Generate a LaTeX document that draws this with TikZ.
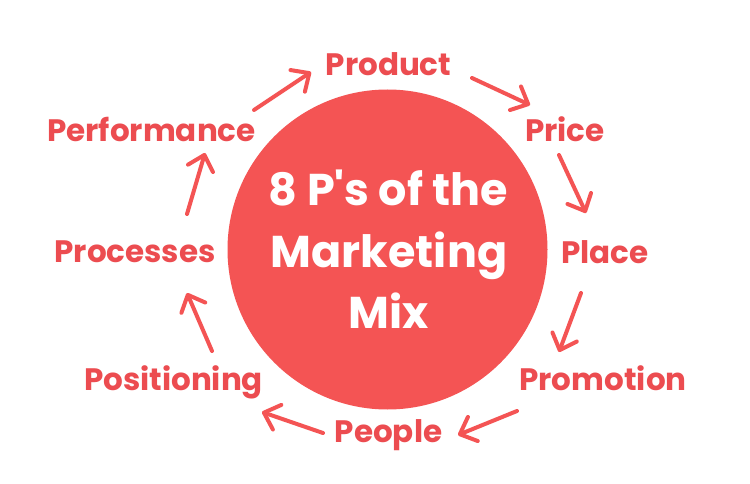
\documentclass[tikz,border=0pt]{standalone}
\usepackage{fontspec}
\setmainfont{Poppins}
\newfontfamily\popplain{Poppins}[Ligatures=TeXOff]
\usetikzlibrary{arrows.meta}
\definecolor{coral}{RGB}{244,84,84}
\definecolor{coraltext}{RGB}{236,76,80}
\begin{document}
\begin{tikzpicture}[x=1pt,y=-1pt,
  lbl/.style={anchor=base,inner sep=0pt,text=coraltext,font=\bfseries\fontsize{31}{31}\selectfont},
  mid/.style={anchor=base,inner sep=0pt,text=white,font=\popplain\bfseries\fontsize{44.5}{44.5}\selectfont},
  flow/.style={draw=coral,line width=4pt,line cap=round,
    -{Straight Barb[length=14pt,width=26pt,round]}}]
\useasboundingbox (0,0) rectangle (750,484);
\fill[white] (0,0) rectangle (750,484);
\node[circle,fill=coral,minimum size=320pt,inner sep=0pt] (hub) at (387.5,249.5) {};
\node[mid] (m1) at (388.5,205) {8 P's of the};
\node[mid] (m2) at (389,267) {Marketing};
\node[mid] (m3) at (388.5,328) {Mix};
\node[lbl] (product) at (388.5,76) {Product};
\node[lbl] (price) at (565,142) {Price};
\node[lbl] (place) at (605,263) {Place};
\node[lbl] (promotion) at (603,390) {Promotion};
\node[lbl] (people) at (388.5,442) {People};
\node[lbl] (positioning) at (173.5,390) {Positioning};
\node[lbl] (processes) at (135,262) {Processes};
\node[lbl] (performance) at (151.5,142) {Performance};
\coordinate (a1s) at (254,110); \coordinate (a1e) at (311,72);
\coordinate (a2s) at (472,78);  \coordinate (a2e) at (530,105);
\coordinate (a3s) at (559,155); \coordinate (a3e) at (586,213);
\coordinate (a4s) at (581,293); \coordinate (a4e) at (559,352);
\coordinate (a5s) at (517,411); \coordinate (a5e) at (458,435);
\coordinate (a6s) at (323,433); \coordinate (a6e) at (262,412);
\coordinate (a7s) at (212,351); \coordinate (a7e) at (187,293);
\coordinate (a8s) at (187,214); \coordinate (a8e) at (205,153);
\draw[flow] (a1s) -- (a1e);
\draw[flow] (a2s) -- (a2e);
\draw[flow] (a3s) -- (a3e);
\draw[flow] (a4s) -- (a4e);
\draw[flow] (a5s) -- (a5e);
\draw[flow] (a6s) -- (a6e);
\draw[flow] (a7s) -- (a7e);
\draw[flow] (a8s) -- (a8e);
\end{tikzpicture}
\end{document}
